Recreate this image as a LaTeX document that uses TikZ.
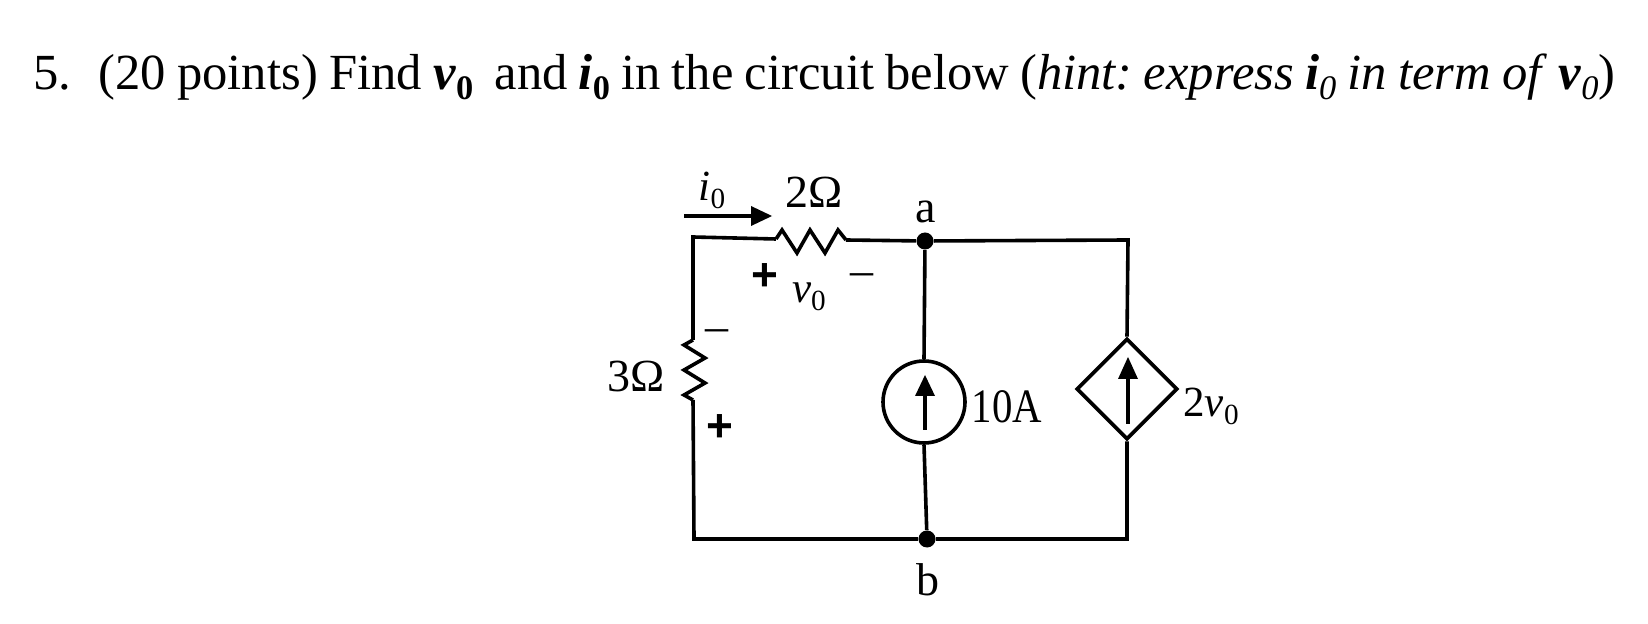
\documentclass[tikz,border=0pt]{standalone}
\usepackage{fontspec}
\setmainfont{Liberation Serif}
\setsansfont{Liberation Sans}
\usetikzlibrary{shapes.geometric}
\newcommand{\lowz}{\raisebox{-0.18em}{\scalebox{0.68}{0}}}
\tikzset{
  x=0.5pt,y=-0.5pt,
  wire/.style={line width=1.8pt,line join=miter,black},
  dot/.style={circle,fill=black,draw=none,minimum size=8.5pt,inner sep=0pt},
  lab/.style={inner sep=0pt,anchor=base,font=\fontsize{23pt}{28pt}\selectfont},
  var/.style={lab,font=\fontsize{21.5pt}{28pt}\selectfont},
  sgn/.style={inner sep=0pt,font=\fontsize{23pt}{28pt}\selectfont\sffamily\bfseries},
  mns/.style={inner sep=0pt,font=\fontsize{23pt}{28pt}\selectfont},
  src/.style={circle,draw=black,line width=1.8pt,minimum size=41pt,inner sep=0pt},
  dep/.style={diamond,draw=black,line width=1.8pt,minimum width=50.5pt,minimum height=50.5pt,inner sep=0pt,aspect=1},
  head/.style={fill=black,draw=none}
}
\begin{document}
\begin{tikzpicture}
\useasboundingbox (0,0) rectangle (1648,624);
\node[anchor=base west,inner sep=0pt,font=\fontsize{25.3pt}{30pt}\selectfont] (title) at (33,90)
 {\frenchspacing\spaceskip=0.222em 5.\hspace{0.54em}(20 points) Find \textbf{\textit{v}\lowz}\hspace{0.42em}and \textbf{\textit{i}\lowz} in the circuit below (\textit{hint: express }\textbf{\textit{i}}\textit{\lowz{} in term of }\textbf{\textit{v}}\textit{\lowz})};
% junctions
\coordinate (tl) at (693,237);
\coordinate (bl) at (694,539);
\coordinate (tr) at (1128,240);
\coordinate (br) at (1127,539);
\node[dot] (a) at (925,241) {};
\node[dot] (b) at (927,539) {};
\node[src] (I) at (924,402) {};
\node[dep] (D) at (1127,389) {};
\coordinate (r2a) at (776,239);
\coordinate (r2b) at (846,240);
\coordinate (r3a) at (693,340);
\coordinate (r3b) at (693,400);
% wires
\draw[wire] (r3a) -- (tl) -- (r2a);
\draw[wire] (r2a) -- ++(6,-9) -- ++(15,23) -- ++(13,-23) -- ++(15,23) -- ++(13,-23) -- (r2b);
\draw[wire] (r2b) -- (a) -- (tr) -- (D.north);
\draw[wire] (a) -- (I.north);
\draw[wire] (I.south) -- (b);
\draw[wire] (D.south) -- (br) -- (b) -- (bl) -- (r3b);
\draw[wire] (r3a) -- ++(-9,5) -- ++(21,13) -- ++(-21,12) -- ++(21,13) -- ++(-21,12) -- (r3b);
% current arrow
\coordinate (i1) at (684,216);
\coordinate (i2) at (755,216);
\draw[wire] (i1) -- (i2);
\fill[head] (772,216) -- (751,206) -- (751,226) -- cycle;
% source arrows
\coordinate (s1) at (925,430);
\coordinate (s2) at (925,394);
\draw[wire] (s1) -- (s2);
\fill[head] (925,375) -- (915,396) -- (935,396) -- cycle;
\coordinate (d1) at (1128,424);
\coordinate (d2) at (1128,377);
\draw[wire] (d1) -- (d2);
\fill[head] (1128,357) -- (1118,379) -- (1138,379) -- cycle;
% labels
\node[var] (li) at (712,201) {\textit{i}\lowz};
\node[lab] (l2) at (814,208) {2Ω};
\node[lab] (la) at (926,223) {a};
\node[lab] (lb) at (928,596) {b};
\node[var] (lv) at (809,303) {\textit{v}\lowz};
\node[lab] (l3) at (636,392) {3Ω};
\node[lab] (l10) at (1007,423) {\scalebox{0.85}[1]{\fontsize{24pt}{28pt}\selectfont 10A}};
\node[var] (l2v) at (1211,417) {2\textit{v}\lowz};
\node[sgn] (p1) at (765,277) {+};
\node[sgn] (p2) at (720,428) {+};
\node[mns] (m1) at (862,280) {–};
\node[mns] (m2) at (717,336) {–};
\end{tikzpicture}
\end{document}
